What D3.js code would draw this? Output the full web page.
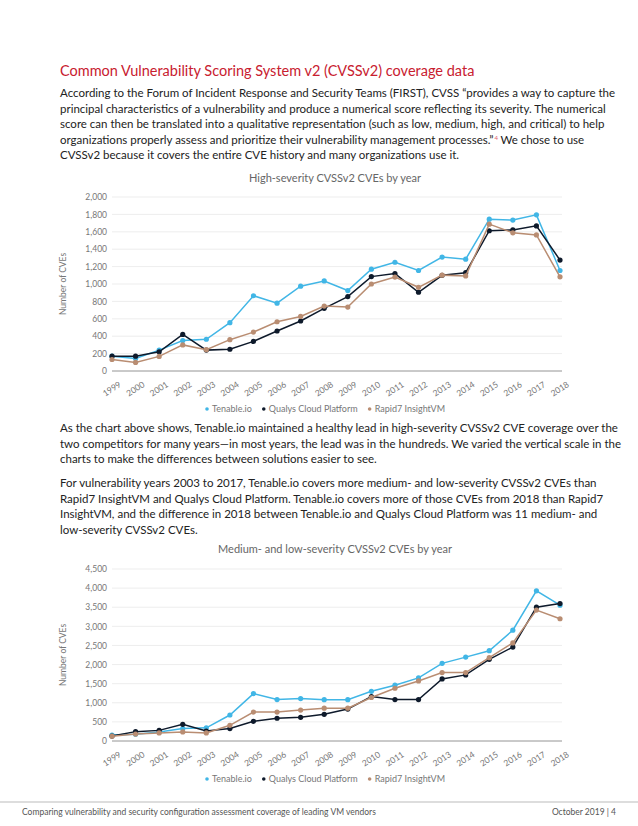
<!DOCTYPE html>
<html>
<head>
<meta charset="utf-8">
<script src="https://cdn.jsdelivr.net/npm/d3@7"></script>
<style>
  html, body { margin: 0; padding: 0; background: #fff; }
  svg { display: block; font-family: Lato, "Open Sans", sans-serif; }
</style>
</head>
<body>
<svg id="page" width="638" height="826"></svg>
<script>
// years on the x axis
const years = d3.range(1999, 2019).map(String);

// high-severity chart values
const highTenable = [170, 145, 240, 350, 365, 555, 865, 780, 975, 1035, 925, 1170, 1250, 1155, 1310, 1285, 1745, 1735, 1795, 1155];
const highQualys  = [170, 170, 220, 420, 240, 250, 340, 460, 575, 720, 855, 1085, 1120, 905, 1100, 1130, 1612, 1622, 1668, 1275];
const highRapid7  = [132, 98, 168, 300, 245, 360, 447, 566, 627, 746, 735, 1000, 1080, 962, 1102, 1093, 1688, 1588, 1564, 1082];
const highTicks = [0, 200, 400, 600, 800, 1000, 1200, 1400, 1600, 1800, 2000];

// medium/low severity chart values
const medTenable = [155, 178, 238, 325, 345, 680, 1240, 1085, 1110, 1082, 1082, 1300, 1460, 1650, 2032, 2195, 2362, 2900, 3928, 3553];
const medQualys  = [130, 245, 278, 436, 262, 325, 515, 595, 620, 698, 836, 1164, 1085, 1085, 1624, 1730, 2138, 2458, 3500, 3595];
const medRapid7  = [125, 182, 210, 238, 210, 410, 758, 758, 810, 860, 860, 1138, 1380, 1572, 1790, 1790, 2180, 2565, 3425, 3198];
const medTicks = [0, 500, 1000, 1500, 2000, 2500, 3000, 3500, 4000, 4500];

const seriesNames = ["Tenable.io", "Qualys Cloud Platform", "Rapid7 InsightVM"];
const colors = ["#41b6e6", "#0e1a2b", "#b98d72"];

const svg = d3.select("#page");
const textGrey = "#777";
const lineStep = 15.6;

// heading
svg.append("text")
  .attr("x", 60).attr("y", 76)
  .attr("fill", "#c8202f")
  .attr("font-size", "14.5px")
  .text("Common Vulnerability Scoring System v2 (CVSSv2) coverage data");

function paragraph(lines, top) {
  return lines.map((l, i) => svg.append("text")
    .attr("x", 60).attr("y", top + i * lineStep)
    .attr("fill", "#222")
    .attr("font-size", "11.5px")
    .text(l));
}

const p1 = paragraph([
  "According to the Forum of Incident Response and Security Teams (FIRST), CVSS \u201cprovides a way to capture the",
  "principal characteristics of a vulnerability and produce a numerical score reflecting its severity. The numerical",
  "score can then be translated into a qualitative representation (such as low, medium, high, and critical) to help",
  "organizations properly assess and prioritize their vulnerability management processes.\u201d",
  "CVSSv2 because it covers the entire CVE history and many organizations use it."
], 97);
// footnote marker and the rest of line 4
const l4w = p1[3].node().getComputedTextLength();
const l4y = 97 + 3 * lineStep;
svg.append("text").attr("x", 60 + l4w + 1).attr("y", l4y - 4).attr("font-size", "6px").attr("fill", "#e06070").text("4");
svg.append("text").attr("x", 60 + l4w + 7).attr("y", l4y).attr("font-size", "11.5px").attr("fill", "#222").text("We chose to use");

paragraph([
  "As the chart above shows, Tenable.io maintained a healthy lead in high-severity CVSSv2 CVE coverage over the",
  "two competitors for many years\u2014in most years, the lead was in the hundreds. We varied the vertical scale in the",
  "charts to make the differences between solutions easier to see."
], 432);

paragraph([
  "For vulnerability years 2003 to 2017, Tenable.io covers more medium- and low-severity CVSSv2 CVEs than",
  "Rapid7 InsightVM and Qualys Cloud Platform. Tenable.io covers more of those CVEs from 2018 than Rapid7",
  "InsightVM, and the difference in 2018 between Tenable.io and Qualys Cloud Platform was 11 medium- and",
  "low-severity CVSSv2 CVEs."
], 487);

function lineChart(opts) {
  const x = d3.scalePoint().domain(years).range([112, 560]);
  const y = d3.scaleLinear().domain([0, opts.max]).range([opts.bottom, opts.top]);
  const g = svg.append("g");

  g.append("text")
    .attr("x", 335).attr("y", opts.titleY)
    .attr("text-anchor", "middle")
    .attr("fill", "#666")
    .attr("font-size", "11px")
    .text(opts.title);

  // grid
  g.selectAll(".grid").data(opts.ticks.slice(1)).join("line")
    .attr("x1", 112).attr("x2", 562)
    .attr("y1", d => y(d)).attr("y2", d => y(d))
    .attr("stroke", "#e8e8e8").attr("stroke-width", 0.8);

  const yAxis = g.append("g")
    .attr("transform", "translate(107,0)")
    .call(d3.axisLeft(y).tickValues(opts.ticks).tickSize(0).tickPadding(0).tickFormat(d3.format(",")));
  yAxis.select(".domain").remove();
  yAxis.selectAll("text").attr("fill", textGrey).attr("font-size", "8.5px").attr("font-family", "Lato, sans-serif");

  // baseline
  g.append("line")
    .attr("x1", 112).attr("x2", 562)
    .attr("y1", y(0)).attr("y2", y(0))
    .attr("stroke", "#888").attr("stroke-width", 0.9);

  const xAxis = g.append("g")
    .attr("transform", `translate(0,${opts.bottom + 6})`)
    .call(d3.axisBottom(x).tickSize(0).tickPadding(0));
  xAxis.select(".domain").remove();
  xAxis.selectAll("text")
    .attr("fill", textGrey).attr("font-size", "8.5px").attr("font-family", "Lato, sans-serif")
    .attr("text-anchor", "end")
    .attr("dy", "0.7em")
    .attr("transform", "translate(6,4) rotate(-33)");

  g.append("text")
    .attr("transform", `translate(66,${(opts.top + opts.bottom) / 2}) rotate(-90)`)
    .attr("text-anchor", "middle")
    .attr("fill", textGrey)
    .attr("font-size", "8.5px")
    .text("Number of CVEs");

  const line = d3.line().x((d, i) => x(years[i])).y(d => y(d));
  opts.series.forEach((vals, si) => {
    g.append("path").datum(vals)
      .attr("d", line)
      .attr("fill", "none")
      .attr("stroke", colors[si])
      .attr("stroke-width", 1.5);
    g.selectAll(null).data(vals).join("circle")
      .attr("cx", (d, i) => x(years[i]))
      .attr("cy", d => y(d))
      .attr("r", 2.6)
      .attr("fill", colors[si]);
  });

  // legend, laid out from measured text widths
  const lg = g.append("g").attr("transform", `translate(0,${opts.legendY})`);
  let cx = 207;
  seriesNames.forEach((n, i) => {
    lg.append("circle").attr("cx", cx).attr("cy", -3).attr("r", 1.8).attr("fill", colors[i]);
    const t = lg.append("text").attr("x", cx + 5).attr("y", 0)
      .attr("fill", textGrey).attr("font-size", "9px").text(n);
    cx += 5 + t.node().getComputedTextLength() + 12;
  });
}

lineChart({
  title: "High-severity CVSSv2 CVEs by year",
  titleY: 182, top: 197, bottom: 371, max: 2000,
  ticks: highTicks, series: [highTenable, highQualys, highRapid7], legendY: 412
});

lineChart({
  title: "Medium- and low-severity CVSSv2 CVEs by year",
  titleY: 553, top: 569, bottom: 741, max: 4500,
  ticks: medTicks, series: [medTenable, medQualys, medRapid7], legendY: 782
});

// footer
svg.append("line").attr("x1", 0).attr("x2", 638).attr("y1", 802).attr("y2", 802)
  .attr("stroke", "#bbb").attr("stroke-width", 1);
svg.append("text").attr("x", 22).attr("y", 815).attr("fill", "#555").attr("font-size", "8.5px")
  .text("Comparing vulnerability and security configuration assessment coverage of leading VM vendors");
svg.append("text").attr("x", 616).attr("y", 815).attr("text-anchor", "end").attr("fill", "#555").attr("font-size", "8.5px")
  .text("October 2019 | 4");
</script>
</body>
</html>
